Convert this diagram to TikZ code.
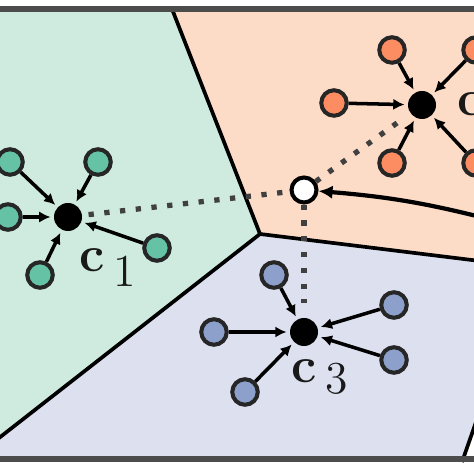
\documentclass[tikz,border=0pt]{standalone}
\usetikzlibrary{arrows.meta}
\definecolor{greenreg}{HTML}{CFEBDF}
\definecolor{orangereg}{HTML}{FDDCC7}
\definecolor{bluereg}{HTML}{DDE0EF}
\definecolor{satgreen}{HTML}{66C2A5}
\definecolor{satorange}{HTML}{FC8D62}
\definecolor{satblue}{HTML}{8DA0CB}
\begin{document}
\begin{tikzpicture}[x=0.1mm,y=-0.1mm,
  boundary/.style={draw=black,line width=1.05pt},
  frameline/.style={draw=black!70,line width=1.6pt},
  sat/.style={circle,draw=black!85,line width=1.15pt,inner sep=0pt,minimum size=2.55mm},
  cen/.style={circle,fill=black,inner sep=0pt,minimum size=2.8mm},
  query/.style={circle,draw=black,fill=white,line width=1.15pt,inner sep=0pt,minimum size=2.5mm},
  arr/.style={line width=1pt,-{Latex[length=3.2pt,width=3.2pt]},shorten >=0.8pt},
  dots/.style={draw=black!75,line width=1.5pt,dash pattern=on 1.5pt off 3pt},
  lbl/.style={anchor=base west,inner sep=0pt,text=black!90,font=\fontsize{14.5}{16}\selectfont}]
\useasboundingbox (0,0) rectangle (474,474);
\begin{scope}
\clip (0,0) rectangle (474,474);
% regions
\fill[greenreg] (-10,9) -- (172,9) -- (260,234) -- (-10,445) -- cycle;
\fill[orangereg] (172,9) -- (480,9) -- (480,261) -- (260,234) -- cycle;
\fill[bluereg] (-10,445) -- (260,234) -- (480,261) -- (480,460) -- (-10,460) -- cycle;
\fill[white] (462,462) -- (476,422) -- (480,422) -- (480,470) -- cycle;
\draw[boundary] (172,9) -- (260,234);
\draw[boundary] (260,234) -- (-10,445);
\draw[boundary] (260,234) -- (480,261);
\draw[boundary] (462,462) -- (476,422);
\draw[frameline] (-5,9) -- (480,9);
\draw[frameline] (-5,459) -- (480,459);

% cluster 1
\node[cen] (c1) at (68,217) {};
\node[sat,fill=satgreen] (a1) at (10,162) {};
\node[sat,fill=satgreen] (a2) at (98,162) {};
\node[sat,fill=satgreen] (a3) at (8,217) {};
\node[sat,fill=satgreen] (a4) at (40,275) {};
\node[sat,fill=satgreen] (a5) at (157,248) {};
\node[lbl] (l1) at (79,272) {$\mathbf{c}$\hspace{2.5pt}\raisebox{-4.2pt}{\fontsize{13}{14}\selectfont 1}};

% cluster 2
\node[cen] (c2) at (422,105) {};
\node[sat,fill=satorange] (b1) at (392,50) {};
\node[sat,fill=satorange] (b2) at (334,103) {};
\node[sat,fill=satorange] (b3) at (392,163) {};
\node[sat,fill=satorange] (b4) at (476,50) {};
\node[sat,fill=satorange] (b5) at (476,163) {};
\node[lbl] (l2) at (457,116) {$\mathbf{c}$\hspace{2.5pt}\raisebox{-4.2pt}{\fontsize{13}{14}\selectfont 2}};

% cluster 3
\node[cen] (c3) at (304,332) {};
\node[sat,fill=satblue] (d1) at (274,275) {};
\node[sat,fill=satblue] (d2) at (394,305) {};
\node[sat,fill=satblue] (d3) at (394,360) {};
\node[sat,fill=satblue] (d4) at (245,392) {};
\node[sat,fill=satblue] (d5) at (214,332) {};
\node[lbl] (l3) at (291,382) {$\mathbf{c}$\hspace{2.5pt}\raisebox{-3.2pt}{\fontsize{13}{14}\selectfont 3}};

% query point
\node[query] (w) at (304,190) {};
\coordinate (src) at (500,222);

% dotted links
\draw[dots,shorten <=0.6mm] (c1) -- (w);
\draw[dots,shorten >=1mm] (w) -- (c2);
\draw[dots,shorten >=1.4mm] (w) -- (c3);

% incoming arrow
\draw[line width=1.2pt,-{Latex[length=4pt,width=3.8pt]}] (src) to[bend right=5] (w);

% satellite arrows
\foreach \s in {a1,a2,a3,a4,a5} \draw[arr] (\s) -- (c1);
\foreach \s in {b1,b2,b3,b4,b5} \draw[arr] (\s) -- (c2);
\foreach \s in {d1,d2,d3,d4,d5} \draw[arr] (\s) -- (c3);
\end{scope}
\end{tikzpicture}
\end{document}
